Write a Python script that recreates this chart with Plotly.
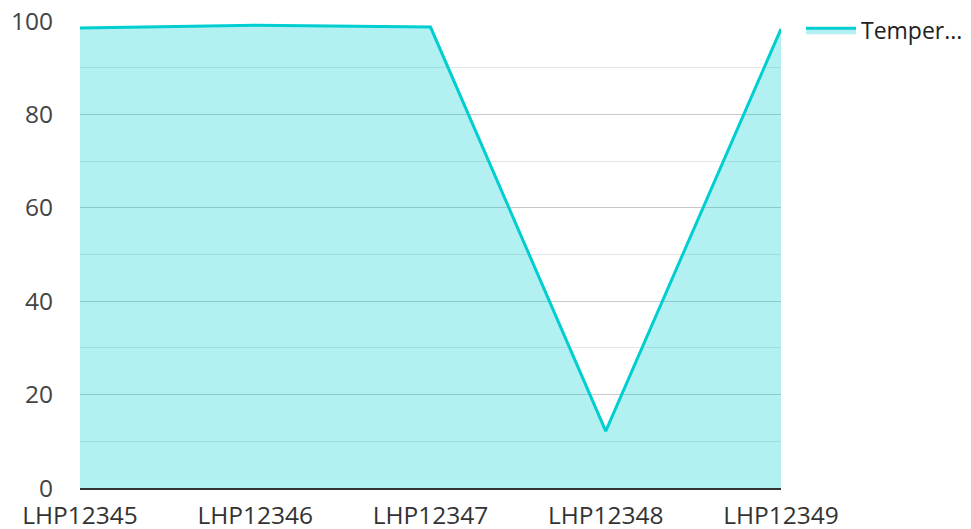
import plotly.graph_objects as go

categories = ["LHP12345", "LHP12346", "LHP12347", "LHP12348", "LHP12349"]
temperature = [98.5, 99.1, 98.7, 12.2, 98.3]
series_name = "Temper..."
y_ticks = [0, 20, 40, 60, 80, 100]

fig = go.Figure()
fig.add_trace(go.Scatter(
    x=categories, y=temperature, name=series_name,
    mode="lines", fill="tozeroy",
    line=dict(color="#00CED1", width=3),
    fillcolor="rgba(0,206,209,0.3)",
    showlegend=True,
))

# page body has an 8px margin; figure sized to fill the rest of the window
fig.update_layout(
    width=963, height=521,
    margin=dict(l=72, r=190, t=13, b=41, autoexpand=False),
    paper_bgcolor="white", plot_bgcolor="white",
    font=dict(family="Open Sans", size=24.5, color="#333"),
    showlegend=True,
    legend=dict(x=1.0285, y=1.026, xanchor="left", yanchor="top",
                itemwidth=50, font=dict(size=23, color="#222"),
                bgcolor="rgba(0,0,0,0)", tracegroupgap=0),
    xaxis=dict(
        type="category", range=[0, 4], showgrid=False, automargin=False,
        showline=True, linecolor="#333", linewidth=2,
        ticks="", ticklabelstandoff=5, zeroline=False,
        ticklabeloverflow="allow",
        tickfont=dict(size=24.5, color="#333"),
    ),
    yaxis=dict(
        range=[0, 100], tickvals=y_ticks, showgrid=True, automargin=False,
        gridcolor="#c8c8c8", gridwidth=1,
        minor=dict(dtick=10, showgrid=True, gridcolor="#e6e6e6", gridwidth=1),
        zeroline=False, showline=False, ticks="",
        ticklabelstandoff=26, ticklabeloverflow="allow",
        tickfont=dict(size=24.5, color="#444"),
    ),
)

fig.write_html("out.html")
